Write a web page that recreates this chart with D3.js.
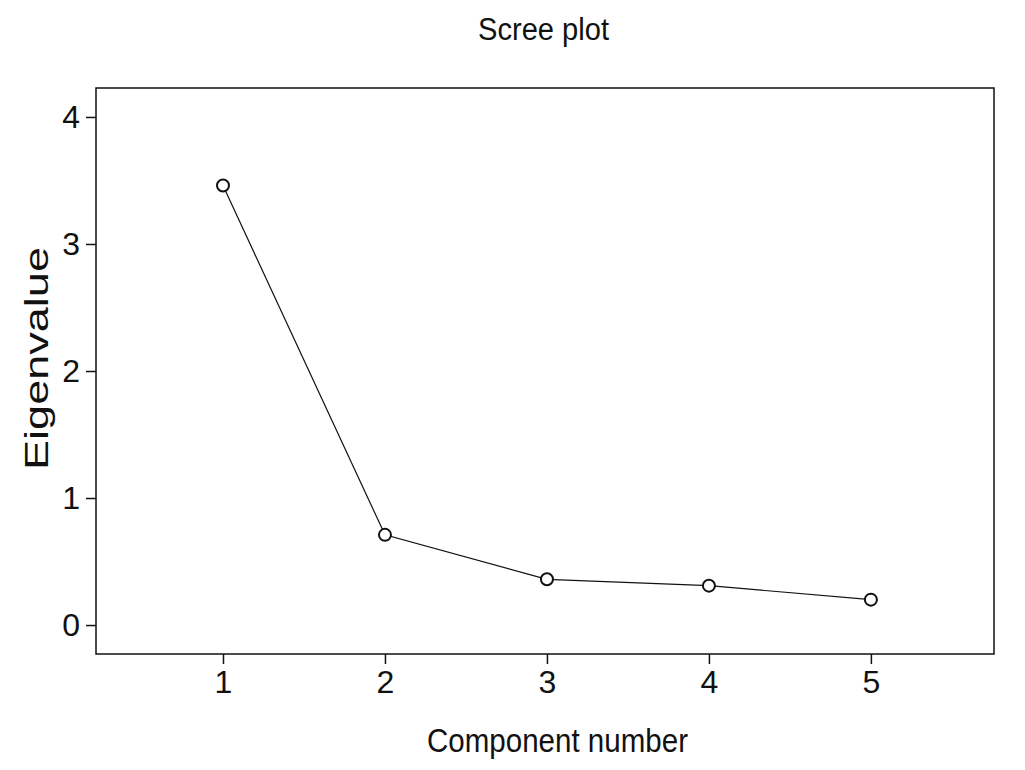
<!DOCTYPE html>
<html>
<head>
<meta charset="utf-8">
<script src="https://cdn.jsdelivr.net/npm/d3@7"></script>
<style>
  body { margin: 0; background: #fff; }
  text { font-family: "Liberation Sans", Arial, sans-serif; fill: #111; }
</style>
</head>
<body>
<div id="container"></div>
<script>
const components = [1, 2, 3, 4, 5]
const eigenvalues = [3.46, 0.71, 0.36, 0.31, 0.20]
const yTicks = [0, 1, 2, 3, 4]

const width = 1025
const height = 770
const margin = { top: 88, right: 31, bottom: 116, left: 96 }

const svg = d3.select('#container')
    .append('svg')
    .attr('width', width)
    .attr('height', height)

const xScale = d3.scaleLinear()
    .domain([0.216, 5.76])
    .range([margin.left, width - margin.right])
const yScale = d3.scaleLinear()
    .domain([-0.228, 4.228])
    .range([height - margin.bottom, margin.top])

svg.append('rect')
    .attr('x', margin.left).attr('y', margin.top)
    .attr('width', width - margin.left - margin.right)
    .attr('height', height - margin.top - margin.bottom)
    .attr('fill', 'none').attr('stroke', '#111').attr('stroke-width', 1.5)

const xAxis = svg.append('g')
    .attr('transform', `translate(0, ${height - margin.bottom})`)
    .call(d3.axisBottom(xScale).tickValues(components).tickSize(10).tickPadding(6).tickFormat(d3.format('d')))
const yAxis = svg.append('g')
    .attr('transform', `translate(${margin.left}, 0)`)
    .call(d3.axisLeft(yScale).tickValues(yTicks).tickSize(10).tickPadding(6).tickFormat(d3.format('d')))

;[xAxis, yAxis].forEach(g => {
    g.select('.domain').remove()
    g.selectAll('line').attr('stroke', '#111').attr('stroke-width', 1.5)
    g.selectAll('text').attr('font-size', 32)
        .attr('font-family', '"Liberation Sans", Arial, sans-serif').attr('fill', '#111')
})

const line = d3.line()
    .x((d, i) => xScale(components[i]))
    .y(d => yScale(d))
svg.append('path')
    .datum(eigenvalues)
    .attr('d', line)
    .attr('fill', 'none').attr('stroke', '#111').attr('stroke-width', 1.2)

svg.selectAll('circle').data(eigenvalues)
    .join('circle')
    .attr('cx', (d, i) => xScale(components[i]))
    .attr('cy', d => yScale(d))
    .attr('r', 6)
    .attr('fill', '#fff').attr('stroke', '#111').attr('stroke-width', 2)

svg.append('text')
    .attr('x', 478).attr('y', 40)
    .attr('font-size', 31)
    .attr('textLength', 131).attr('lengthAdjust', 'spacingAndGlyphs')
    .text('Scree plot')

svg.append('text')
    .attr('x', 427).attr('y', 752)
    .attr('font-size', 33)
    .attr('textLength', 261).attr('lengthAdjust', 'spacingAndGlyphs')
    .text('Component number')

svg.append('text')
    .attr('transform', `translate(48, 470) rotate(-90)`)
    .attr('font-size', 33)
    .attr('textLength', 223).attr('lengthAdjust', 'spacingAndGlyphs')
    .text('Eigenvalue')
</script>
</body>
</html>
